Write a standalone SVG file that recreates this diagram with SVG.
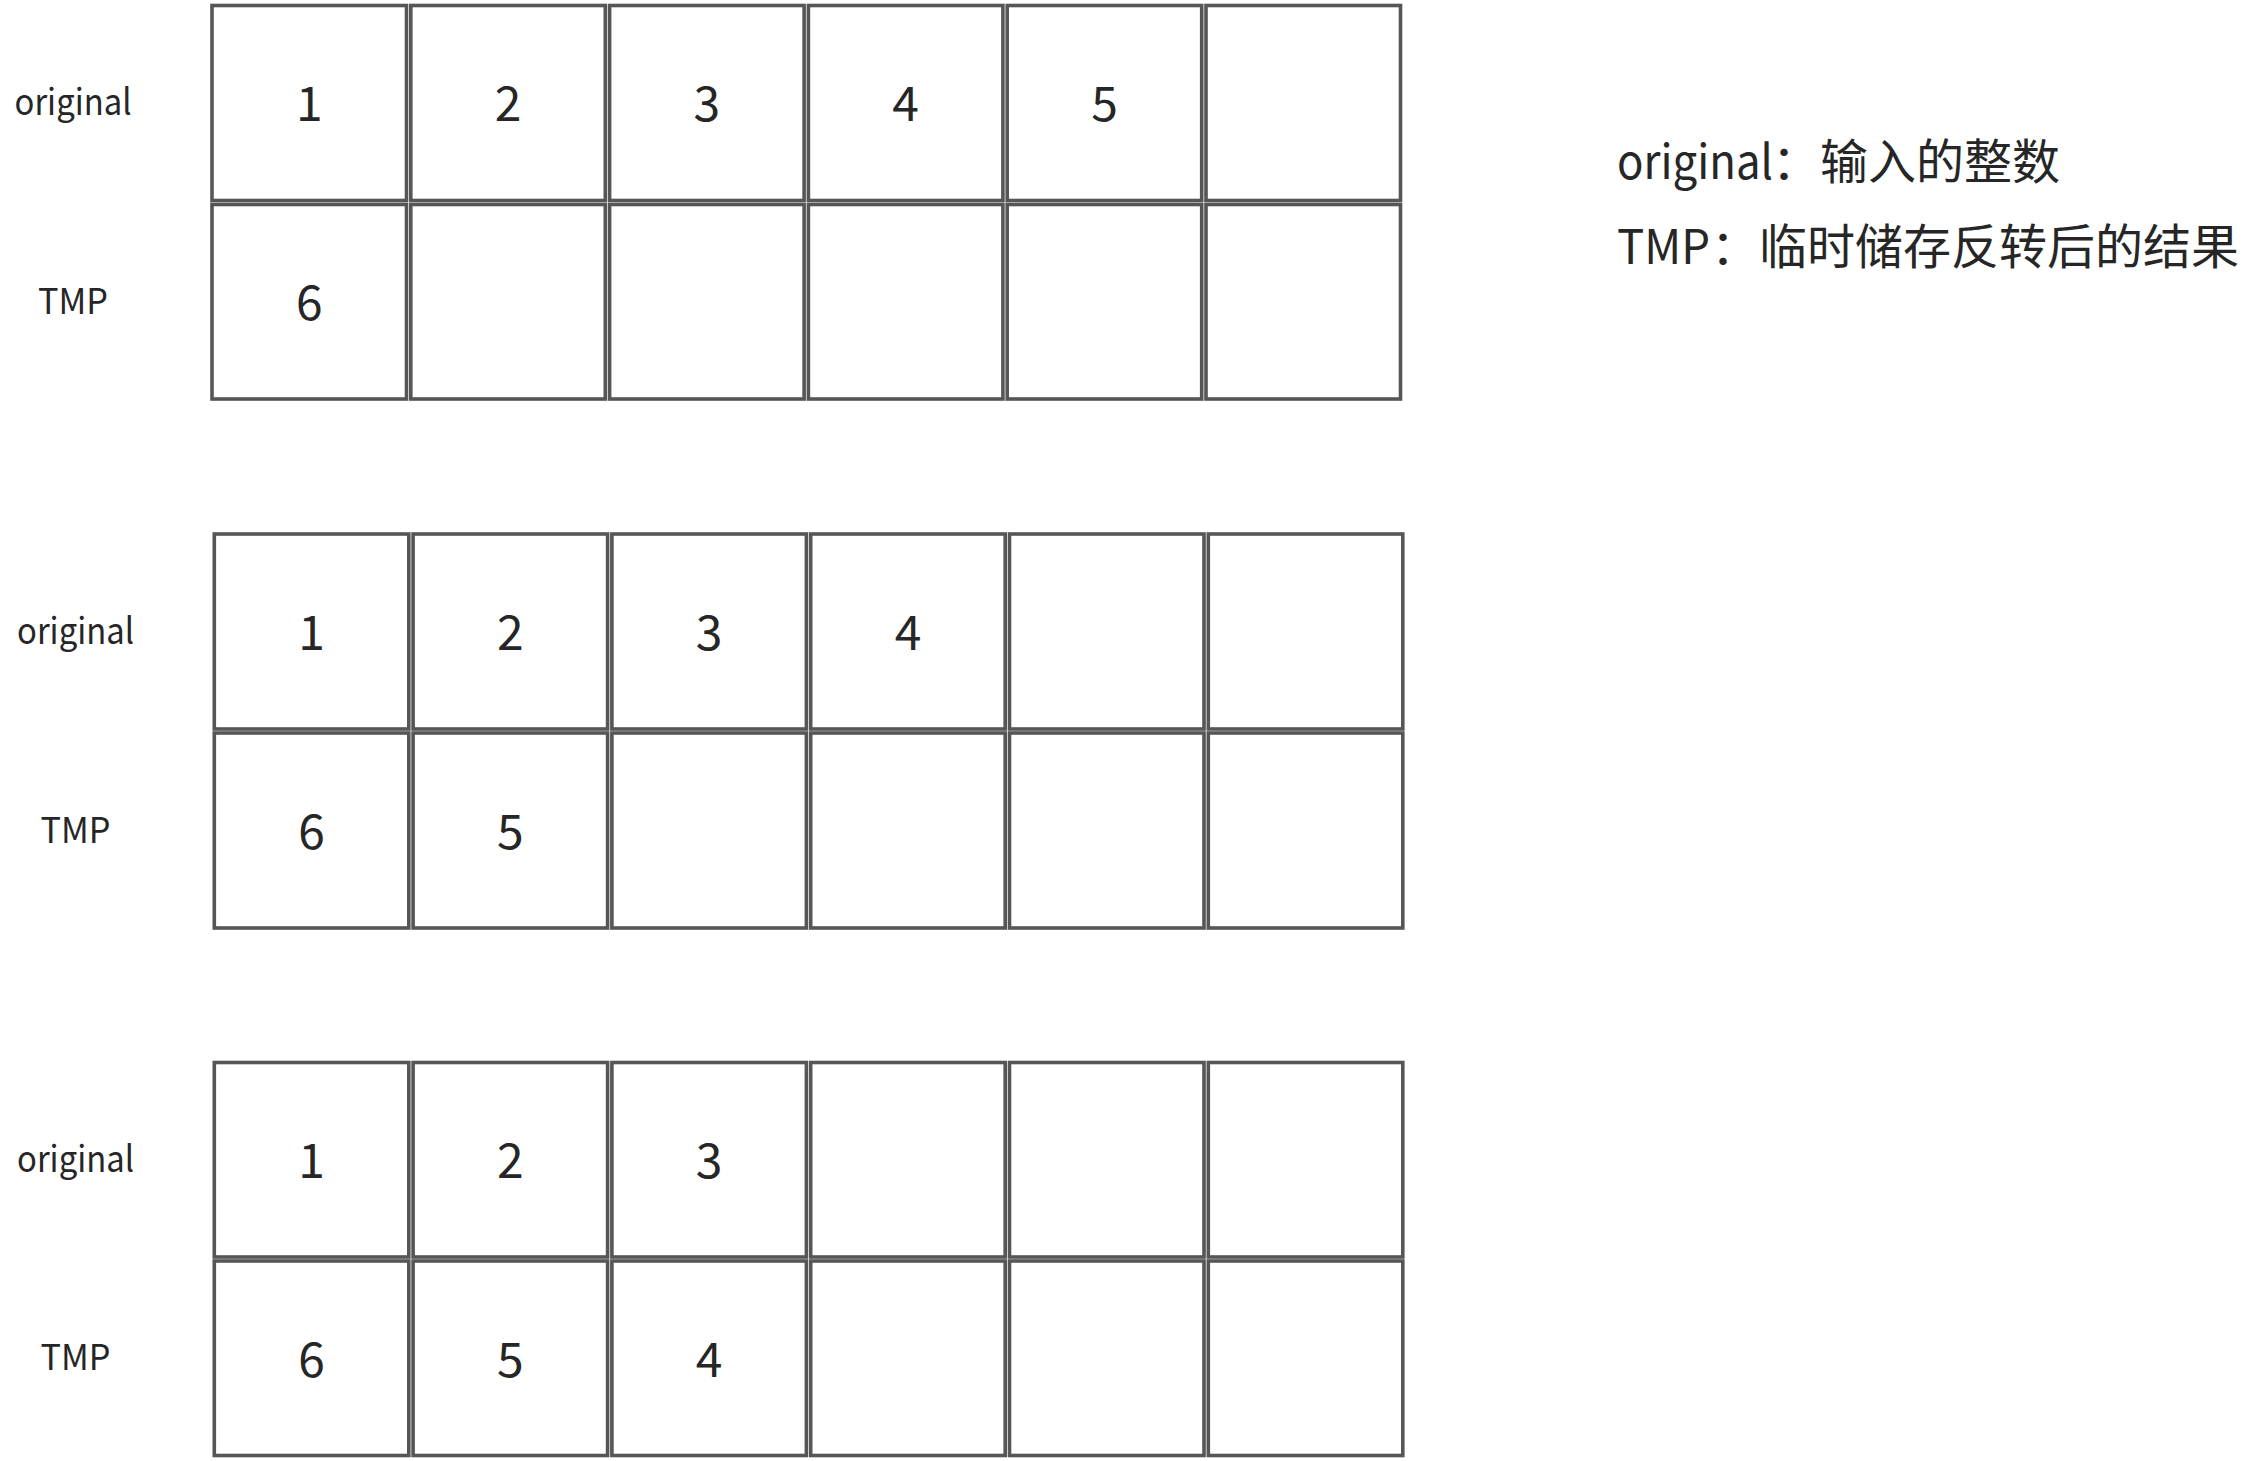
<svg xmlns="http://www.w3.org/2000/svg" width="2256" height="1461" viewBox="0 0 2256 1461">
<style>
  .cell { fill: #ffffff; stroke: #565656; stroke-width: 3.6; }
  .num { font-family: "Noto Sans CJK SC", "Noto Sans", sans-serif; font-size: 48px; fill: #262626; text-anchor: middle; }
  .lbl { font-family: "Noto Sans CJK SC", "Noto Sans", sans-serif; font-size: 36px; fill: #262626; text-anchor: middle; }
  .note { font-family: "Noto Sans CJK SC", "Noto Sans", sans-serif; font-size: 48px; fill: #262626; }
</style>
<rect x="0" y="0" width="2256" height="1461" fill="#ffffff"/>

<g id="table1">
  <text class="lbl" x="73" y="115" textLength="117" lengthAdjust="spacingAndGlyphs">original</text>
  <text class="lbl" x="73" y="314" textLength="70" lengthAdjust="spacingAndGlyphs">TMP</text>
  <g id="t1-o1"><rect class="cell" x="212" y="5.5" width="194.5" height="195"/><text class="num" x="309.25" y="121">1</text></g>
  <g id="t1-o2"><rect class="cell" x="410.8" y="5.5" width="194.5" height="195"/><text class="num" x="508.05" y="121">2</text></g>
  <g id="t1-o3"><rect class="cell" x="609.6" y="5.5" width="194.5" height="195"/><text class="num" x="706.85" y="121">3</text></g>
  <g id="t1-o4"><rect class="cell" x="808.4" y="5.5" width="194.5" height="195"/><text class="num" x="905.65" y="121">4</text></g>
  <g id="t1-o5"><rect class="cell" x="1007.2" y="5.5" width="194.5" height="195"/><text class="num" x="1104.45" y="121">5</text></g>
  <g id="t1-o6"><rect class="cell" x="1206" y="5.5" width="194.5" height="195"/></g>
  <g id="t1-t1"><rect class="cell" x="212" y="204.5" width="194.5" height="194.5"/><text class="num" x="309.25" y="320">6</text></g>
  <g id="t1-t2"><rect class="cell" x="410.8" y="204.5" width="194.5" height="194.5"/></g>
  <g id="t1-t3"><rect class="cell" x="609.6" y="204.5" width="194.5" height="194.5"/></g>
  <g id="t1-t4"><rect class="cell" x="808.4" y="204.5" width="194.5" height="194.5"/></g>
  <g id="t1-t5"><rect class="cell" x="1007.2" y="204.5" width="194.5" height="194.5"/></g>
  <g id="t1-t6"><rect class="cell" x="1206" y="204.5" width="194.5" height="194.5"/></g>
</g>

<g id="table2">
  <text class="lbl" x="75.5" y="643.5" textLength="117" lengthAdjust="spacingAndGlyphs">original</text>
  <text class="lbl" x="75.5" y="842.5" textLength="70" lengthAdjust="spacingAndGlyphs">TMP</text>
  <g id="t2-o1"><rect class="cell" x="214.3" y="534" width="194.5" height="195"/><text class="num" x="311.55" y="649.5">1</text></g>
  <g id="t2-o2"><rect class="cell" x="413.1" y="534" width="194.5" height="195"/><text class="num" x="510.35" y="649.5">2</text></g>
  <g id="t2-o3"><rect class="cell" x="611.9" y="534" width="194.5" height="195"/><text class="num" x="709.15" y="649.5">3</text></g>
  <g id="t2-o4"><rect class="cell" x="810.7" y="534" width="194.5" height="195"/><text class="num" x="907.95" y="649.5">4</text></g>
  <g id="t2-o5"><rect class="cell" x="1009.5" y="534" width="194.5" height="195"/></g>
  <g id="t2-o6"><rect class="cell" x="1208.3" y="534" width="194.5" height="195"/></g>
  <g id="t2-t1"><rect class="cell" x="214.3" y="733" width="194.5" height="195"/><text class="num" x="311.55" y="848.5">6</text></g>
  <g id="t2-t2"><rect class="cell" x="413.1" y="733" width="194.5" height="195"/><text class="num" x="510.35" y="848.5">5</text></g>
  <g id="t2-t3"><rect class="cell" x="611.9" y="733" width="194.5" height="195"/></g>
  <g id="t2-t4"><rect class="cell" x="810.7" y="733" width="194.5" height="195"/></g>
  <g id="t2-t5"><rect class="cell" x="1009.5" y="733" width="194.5" height="195"/></g>
  <g id="t2-t6"><rect class="cell" x="1208.3" y="733" width="194.5" height="195"/></g>
</g>

<g id="table3">
  <text class="lbl" x="75.5" y="1172" textLength="117" lengthAdjust="spacingAndGlyphs">original</text>
  <text class="lbl" x="75.5" y="1370" textLength="70" lengthAdjust="spacingAndGlyphs">TMP</text>
  <g id="t3-o1"><rect class="cell" x="214.3" y="1062.5" width="194.5" height="194.5"/><text class="num" x="311.55" y="1178">1</text></g>
  <g id="t3-o2"><rect class="cell" x="413.1" y="1062.5" width="194.5" height="194.5"/><text class="num" x="510.35" y="1178">2</text></g>
  <g id="t3-o3"><rect class="cell" x="611.9" y="1062.5" width="194.5" height="194.5"/><text class="num" x="709.15" y="1178">3</text></g>
  <g id="t3-o4"><rect class="cell" x="810.7" y="1062.5" width="194.5" height="194.5"/></g>
  <g id="t3-o5"><rect class="cell" x="1009.5" y="1062.5" width="194.5" height="194.5"/></g>
  <g id="t3-o6"><rect class="cell" x="1208.3" y="1062.5" width="194.5" height="194.5"/></g>
  <g id="t3-t1"><rect class="cell" x="214.3" y="1261" width="194.5" height="194.5"/><text class="num" x="311.55" y="1376.5">6</text></g>
  <g id="t3-t2"><rect class="cell" x="413.1" y="1261" width="194.5" height="194.5"/><text class="num" x="510.35" y="1376.5">5</text></g>
  <g id="t3-t3"><rect class="cell" x="611.9" y="1261" width="194.5" height="194.5"/><text class="num" x="709.15" y="1376.5">4</text></g>
  <g id="t3-t4"><rect class="cell" x="810.7" y="1261" width="194.5" height="194.5"/></g>
  <g id="t3-t5"><rect class="cell" x="1009.5" y="1261" width="194.5" height="194.5"/></g>
  <g id="t3-t6"><rect class="cell" x="1208.3" y="1261" width="194.5" height="194.5"/></g>
</g>

<g id="legend">
  <text class="note" y="179"><tspan x="1617" textLength="156" lengthAdjust="spacingAndGlyphs">original</tspan><tspan x="1772">：输入的整数</tspan></text>
  <text class="note" y="264"><tspan x="1617" textLength="93" lengthAdjust="spacingAndGlyphs">TMP</tspan><tspan x="1711">：临时储存反转后的结果</tspan></text>
</g>

<g id="connectors"></g>
</svg>
